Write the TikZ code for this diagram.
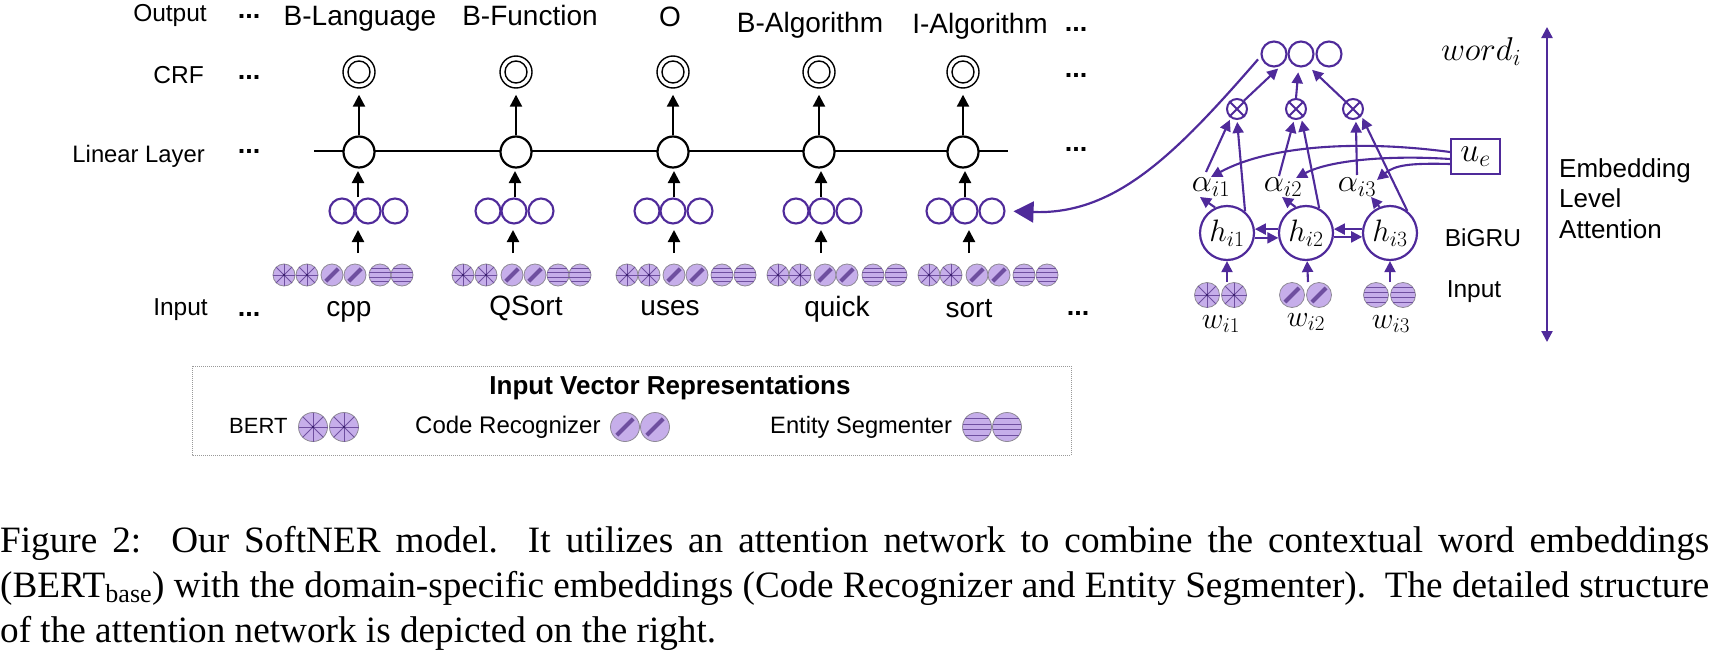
\RequirePackage{fix-cm}
\documentclass[tikz,border=0pt]{standalone}
\usepackage{fontspec}
\setmainfont{Liberation Serif}
\setsansfont{Liberation Sans}
\usetikzlibrary{arrows.meta}
\definecolor{pur}{HTML}{4F2A9A}
\definecolor{fillp}{HTML}{C6AEEA}
\definecolor{darkp}{HTML}{6F4FA0}
\tikzset{
 lab/.style={font=\sffamily\fontsize{24.5}{28}\selectfont,inner sep=0pt,text=black,anchor=base},
 big/.style={lab,font=\sffamily\fontsize{28}{30}\selectfont},
 labr/.style={lab,anchor=base east},
 dots/.style={font=\sffamily\bfseries\fontsize{27}{27}\selectfont,inner sep=0pt,anchor=base},
 blk/.style={line width=2.2pt,-{Triangle[length=12pt,width=12pt]},black},
 pp/.style={line width=2.1pt,-{Triangle[length=11pt,width=11pt]},pur},
 circ/.style={circle,draw=black,line width=2.2pt,fill=white,minimum size=31pt,inner sep=0pt},
 pc/.style={circle,draw=pur,line width=2.1pt,fill=white,minimum size=25pt,inner sep=0pt},
 hc/.style={circle,draw=pur,line width=2.2pt,fill=white,minimum size=54pt,inner sep=0pt,font=\fontsize{31}{31}\selectfont},
 xc/.style={circle,draw=pur,line width=2pt,fill=white,minimum size=20pt,inner sep=0pt},
 mathl/.style={inner sep=0pt,font=\fontsize{32}{32}\selectfont},
 captext/.style={inner sep=0pt,anchor=base west,font=\rmfamily\fontsize{37.2}{40}\selectfont}
}
\newcommand{\discbase}[3]{\fill[fillp,draw=gray!80!fillp,line width=.8pt] (#1,#2) circle[radius=#3];}
\newcommand{\discstar}[3]{\discbase{#1}{#2}{#3}
 \foreach \ang in {0,45,...,315}{\draw[darkp,line width=.9pt] (#1,#2) -- ++(\ang:#3);}
 \fill[pur!70!black] (#1,#2) circle[radius=1.3];}
\newcommand{\slsh}[3]{\discbase{#1}{#2}{#3}
 \draw[darkp,line width=4pt] (#1,#2) ++(-45:#3*.8) -- ++(135:#3*1.6);}
\newcommand{\hstr}[3]{\discbase{#1}{#2}{#3}
 \foreach \dd in {-.6,-.2,.2,.6}{\draw[darkp,line width=1.1pt] ({#1-sqrt(1-\dd*\dd)*#3},{#2+\dd*#3}) -- ({#1+sqrt(1-\dd*\dd)*#3},{#2+\dd*#3});}}
\begin{document}
\begin{tikzpicture}[x=1pt,y=-1pt]
\useasboundingbox (0,0) rectangle (1711,653);
\coordinate (lineL) at (314,151);
\coordinate (lineR) at (1008,151);
\draw[black,line width=2.2pt] (lineL) -- (lineR);
\foreach \i/\x in {1/359,2/516,3/673,4/819,5/963}{
 \node[circ] (L\i) at (\x,152) {};
 \node[circle,draw=black,line width=1.4pt,minimum size=32pt,inner sep=0pt] (C\i) at (\x,72) {};
 \node[circle,draw=black,line width=1.4pt,minimum size=22pt,inner sep=0pt] (Ci\i) at (\x,72) {};
 \draw[blk,shorten >=6pt] (L\i) -- (C\i);
}
\foreach \i/\x/\ax/\lx in {1/368/358/358,2/514/515/513,3/673/674/674,4/822/821/821,5/965/965/969}{
 \node[pc] (A\i) at (\x-26,211) {};
 \node[pc] (B\i) at (\x,211) {};
 \node[pc] (D\i) at (\x+27,211) {};
 \coordinate (up\i) at (\ax,197);
 \coordinate (upt\i) at (\ax,171);
 \draw[blk] (up\i) -- (upt\i);
 \coordinate (lo\i) at (\lx,253);
 \coordinate (lot\i) at (\lx,230);
 \draw[blk] (lo\i) -- (lot\i);
}
\foreach \pa/\pb/\pc/\pd/\pe/\pf in {284/307/332/355/380/402,463/486/512/535/558/580,627/649/674/697/722/745,778/800/825/847/873/896,929/951/977/999/1024/1047}{
 \discstar{\pa}{275}{11} \discstar{\pb}{275}{11}
 \slsh{\pc}{275}{11} \slsh{\pd}{275}{11}
 \hstr{\pe}{275}{11} \hstr{\pf}{275}{11}
}
% left labels
\node[labr] (tO) at (207,21) {Output};
\node[labr] (tC) at (204,83) {CRF};
\node[labr,font=\sffamily\fontsize{23.8}{28}\selectfont] (tL) at (205,162) {Linear Layer};
\node[labr] (tI) at (208,315) {Input};
\foreach \y/\n in {18/a,79/b,153/c,316/d}{\node[dots] (dl\n) at (249,\y) {...};}
\foreach \y/\x/\n in {31/1076/a,77/1076/b,151/1076/c,315/1078/d}{\node[dots] (dr\n) at (\x,\y) {...};}
\node[big] (o1) at (360,25) {B-Language};
\node[big] (o2) at (530,25) {B-Function};
\node[big] (o3) at (670,27) {O};
\node[big] (o4) at (810,32) {B-Algorithm};
\node[big] (o5) at (980,33) {I-Algorithm};
\node[big] (w1) at (349,316) {cpp};
\node[big] (w2) at (526,315) {QSort};
\node[big] (w3) at (670,315) {uses};
\node[big] (w4) at (837,316) {quick};
\node[big] (w5) at (969,317) {sort};
% legend box
\draw[gray!80,dash pattern=on 1pt off 1pt,line width=.8pt] (192,366) rectangle (1071,455);
\node[lab,font=\sffamily\bfseries\fontsize{26}{28}\selectfont] (ivr) at (670,394) {Input Vector Representations};
\node[lab,anchor=base west,font=\sffamily\fontsize{22}{24}\selectfont] (bert) at (229,433) {BERT};
\discstar{313}{427}{14.5} \discstar{344}{427}{14.5}
\node[lab,anchor=base west,font=\sffamily\fontsize{24}{26}\selectfont] (code) at (415,433) {Code Recognizer};
\slsh{625}{427}{14.5} \slsh{655}{427}{14.5}
\node[lab,anchor=base west,font=\sffamily\fontsize{23.7}{26}\selectfont] (ent) at (770,433) {Entity Segmenter};
\hstr{977}{427}{14.5} \hstr{1007}{427}{14.5}
% attention
\node[pc] (t1) at (1274,54) {};
\node[pc] (t2) at (1301,54) {};
\node[pc] (t3) at (1329,54) {};
\node[xc] (x1) at (1237,109) {};
\node[xc] (x2) at (1296,109) {};
\node[xc] (x3) at (1353,109) {};
\foreach \n in {x1,x2,x3}{
 \draw[pur,line width=1.8pt] (\n.north west) -- (\n.south east) (\n.north east) -- (\n.south west);}
\node[mathl] (a1) at (1211,187) {$\alpha_{i1}$};
\node[mathl] (a2) at (1283,187) {$\alpha_{i2}$};
\node[mathl] (a3) at (1357,187) {$\alpha_{i3}$};
\node[hc] (h1) at (1227,233) {$h_{i1}$};
\node[hc] (h2) at (1306,233) {$h_{i2}$};
\node[hc] (h3) at (1390,233) {$h_{i3}$};
\discstar{1207}{295}{12.5} \discstar{1234}{295}{12.5}
\slsh{1292}{295}{12.5} \slsh{1319}{295}{12.5}
\hstr{1376}{295}{12.5} \hstr{1403}{295}{12.5}
\node[mathl,font=\fontsize{30}{30}\selectfont] (w1i) at (1221,324) {$w_{i1}$};
\node[mathl,font=\fontsize{30}{30}\selectfont] (w2i) at (1306,322) {$w_{i2}$};
\node[mathl,font=\fontsize{30}{30}\selectfont] (w3i) at (1391,324) {$w_{i3}$};
\node[draw=pur,fill=white,line width=2.2pt,minimum width=49pt,minimum height=35pt,inner sep=0pt,font=\fontsize{34}{34}\selectfont] (ue) at (1475.5,156.5) {$u_e$};
\node[mathl,font=\fontsize{33}{33}\selectfont] (word) at (1481,52) {$word_i$};
\node[lab] (bigru) at (1483,246) {BiGRU};
\node[lab] (inp) at (1474,297) {Input};
\node[lab,anchor=base west,font=\sffamily\fontsize{26}{28}\selectfont] (e1) at (1559,177) {Embedding};
\node[lab,anchor=base west,font=\sffamily\fontsize{26}{28}\selectfont] (e2) at (1559,207) {Level};
\node[lab,anchor=base west,font=\sffamily\fontsize{26}{28}\selectfont] (e3) at (1559,238) {Attention};
% long double arrow
\coordinate (laT) at (1547,27);
\coordinate (laB) at (1547,342);
\draw[pur,line width=2.2pt,{Triangle[length=11pt,width=11pt]}-{Triangle[length=11pt,width=11pt]}] (laB) -- (laT);
% inputs to h
\coordinate (in1) at (1227,282);
\coordinate (in2) at (1308,282);
\coordinate (in3) at (1390,282);
\draw[pp] (in1) -- (h1);
\draw[pp] (in2) -- (h2);
\draw[pp] (in3) -- (h3);
% horizontal
\draw[pp] (h2.172) -- (h1.8);
\draw[pp] (h1.-10) -- (h2.190);
\draw[pp] (h3.172) -- (h2.8);
\draw[pp] (h2.-8) -- (h3.188);
% h to alpha
\coordinate (ha1) at (1200,197);
\coordinate (ha2) at (1282,197);
\coordinate (ha3) at (1371,197);
\draw[pp] (h1.115) -- (ha1);
\draw[pp] (h2.112) -- (ha2);
\draw[pp] (h3.112) -- (ha3);
% h to x
\draw[pp,shorten >=2pt] (h1.50) -- (x1.south);
\draw[pp,shorten >=2pt] (h2.62) -- (x2.300);
\draw[pp,shorten >=2pt] (h3.52) -- (x3.320);
% alpha to x
\coordinate (as1) at (1206,172);
\coordinate (as2) at (1279,176);
\coordinate (as3) at (1357,175);
\draw[pp,shorten >=2pt] (as1) -- (x1.235);
\draw[pp,shorten >=2pt] (as2) -- (x2.260);
\draw[pp,shorten >=2pt] (as3) -- (x3.285);
% x to triple
\draw[pp,shorten >=5pt] (x1.50) -- (t1.-55);
\draw[pp,shorten >=5pt] (x2.north) -- (t2.260);
\draw[pp,shorten >=6pt] (x3.135) -- (t2.-60);
% ue to alpha
\coordinate (ua1) at (1211,177);
\coordinate (ua2) at (1296,178);
\coordinate (ua3) at (1377,180);
\draw[pp] ([yshift=4.5pt]ue.west) .. controls (1360,140) and (1270,145) .. (ua1);
\draw[pp] ([yshift=-2.5pt]ue.west) .. controls (1390,155) and (1330,160) .. (ua2);
\draw[pp] ([yshift=-7.5pt]ue.west) .. controls (1410,163) and (1395,165) .. (ua3);
% long curve
\draw[pur,line width=2.2pt,-{Triangle[length=20pt,width=21pt]},shorten <=4pt,shorten >=8pt] (t1.190) .. controls (1175,155) and (1115,215) .. (D5.east);
% caption
\node[captext] (c1) at (0,552) {\spaceskip=.17em plus 1em\hbox to 1709pt{Figure 2:\ \ Our SoftNER model.\ \ It utilizes an attention network to combine the contextual word embeddings}};
\node[captext] (c2) at (0,597) {\spaceskip=.17em plus 1em\hbox to 1709pt{(BERT\textsubscript{base}) with the domain-specific embeddings (Code Recognizer and Entity Segmenter). The detailed structure}};
\node[captext] (c3) at (0,642) {of the attention network is depicted on the right.};
\end{tikzpicture}
\end{document}
